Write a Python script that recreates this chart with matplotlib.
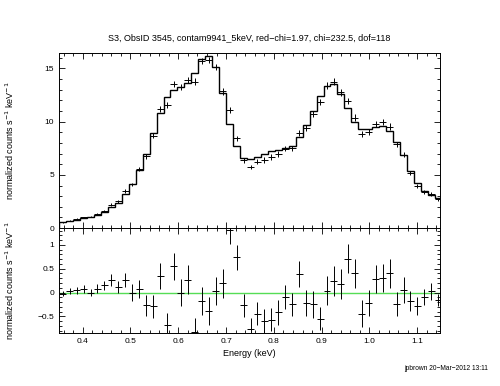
import numpy as np
import matplotlib
matplotlib.use("Agg")
import matplotlib.pyplot as plt
from matplotlib.ticker import MultipleLocator

plt.rcParams['font.family'] = ['Liberation Sans', 'DejaVu Sans']

# Channel energies (keV): bin centres and half-width
energy = [0.3582, 0.3728, 0.3873, 0.4019, 0.4164, 0.4310, 0.4455, 0.4601,
          0.4746, 0.4892, 0.5037, 0.5183, 0.5328, 0.5474, 0.5619, 0.5765,
          0.5910, 0.6056, 0.6201, 0.6347, 0.6492, 0.6638, 0.6783, 0.6929,
          0.7074, 0.7220, 0.7365, 0.7511, 0.7656, 0.7802, 0.7947, 0.8093,
          0.8238, 0.8384, 0.8529, 0.8675, 0.8820, 0.8966, 0.9111, 0.9257,
          0.9402, 0.9548, 0.9693, 0.9839, 0.9984, 1.0130, 1.0275, 1.0421,
          1.0566, 1.0712, 1.0857, 1.1003, 1.1148, 1.1294, 1.1439]
half_width = 0.00728

# Model (folded) in normalized counts s^-1 keV^-1
model = [0.58, 0.68, 0.80, 0.92, 1.08, 1.27, 1.48, 1.95, 2.38, 3.22,
         4.10, 5.43, 7.00, 8.97, 10.82, 12.27, 13.00, 13.27, 13.64, 14.58,
         15.84, 16.20, 15.09, 12.64, 9.76, 7.69, 6.62, 6.50, 6.68, 7.00,
         7.25, 7.37, 7.56, 7.75, 8.56, 9.66, 11.00, 12.39, 13.33, 13.49,
         12.58, 11.23, 9.97, 9.26, 9.26, 9.50, 9.63, 9.13, 8.09, 6.84,
         5.36, 4.23, 3.48, 3.14, 2.86]

# Observed data
data = [0.56, 0.71, 0.85, 1.00, 1.08, 1.35, 1.63, 2.21, 2.50, 3.48,
        4.10, 5.51, 6.73, 8.68, 11.16, 11.58, 13.55, 13.27, 13.91, 13.75,
        15.66, 15.81, 15.12, 12.83, 11.08, 8.43, 6.35, 5.74, 6.24, 6.40,
        6.68, 6.96, 7.47, 7.50, 8.95, 9.44, 10.75, 11.84, 13.37, 13.73,
        12.76, 11.94, 10.37, 8.82, 9.04, 9.79, 9.93, 9.53, 7.85, 6.90,
        5.18, 3.94, 3.39, 3.17, 2.71]

# 1-sigma errors
sigma = [0.06, 0.06, 0.07, 0.08, 0.08, 0.09, 0.10, 0.12, 0.13, 0.15,
         0.17, 0.19, 0.22, 0.24, 0.27, 0.27, 0.28, 0.29, 0.30, 0.30,
         0.30, 0.30, 0.30, 0.30, 0.30, 0.26, 0.25, 0.22, 0.25, 0.25,
         0.245, 0.26, 0.245, 0.245, 0.27, 0.28, 0.28, 0.245, 0.30, 0.32,
         0.32, 0.30, 0.30, 0.28, 0.28, 0.29, 0.29, 0.30, 0.26, 0.27,
         0.21, 0.19, 0.165, 0.18, 0.13]

title = "S3, ObsID 3545, contam9941_5keV, red\u2212chi=1.97, chi=232.5, dof=118"
ylabel = "normalized counts s$^{-1}$ keV$^{-1}$"
stamp = "jpbrown 20\u2212Mar\u22122012 13:11"

E = np.array(energy)
M = np.array(model)
D = np.array(data)
S = np.array(sigma)
R = D - M
edges = np.concatenate([E - half_width, [E[-1] + half_width]])

fig = plt.figure(figsize=(5.0, 3.86), dpi=100)
ax1 = fig.add_axes([0.118, 0.409, 0.762, 0.454])
ax2 = fig.add_axes([0.118, 0.137, 0.762, 0.272], sharex=ax1)

ax1.stairs(M, edges, color='black', lw=1.0)
ax1.errorbar(E, D, xerr=half_width, yerr=S, fmt='none', ecolor='black', elinewidth=0.7)
ax2.axhline(0, color='#55dd55', lw=1.0, zorder=1)
ax2.errorbar(E, R, xerr=half_width, yerr=S, fmt='none', ecolor='black', elinewidth=0.7, zorder=2)

ax1.set_xlim(0.3505, 1.1475)
ax1.set_ylim(0, 16.45)
ax2.set_ylim(-0.85, 1.35)

for ax in (ax1, ax2):
    ax.tick_params(which='both', direction='in', top=True, right=True, labelsize=6)
    ax.tick_params(which='major', length=4, width=0.6)
    ax.tick_params(which='minor', length=2, width=0.6)
    for sp in ax.spines.values():
        sp.set_linewidth(0.7)
ax1.xaxis.set_major_locator(MultipleLocator(0.1))
ax1.xaxis.set_minor_locator(MultipleLocator(0.02))
ax1.yaxis.set_major_locator(MultipleLocator(5))
ax1.yaxis.set_minor_locator(MultipleLocator(1))
ax2.yaxis.set_major_locator(MultipleLocator(0.5))
ax2.yaxis.set_minor_locator(MultipleLocator(0.1))
ax2.set_yticks([-0.5, 0, 0.5, 1])
ax2.set_yticklabels(['\u22120.5', '0', '0.5', '1'])
ax1.set_yticks([0, 5, 10, 15])
ax1.set_yticklabels(['0', '5', '10', '15'])
plt.setp(ax1.get_xticklabels(), visible=False)

ax1.set_title(title, fontsize=6.5, pad=9)
ax1.set_ylabel(ylabel, fontsize=6.5)
ax2.set_ylabel(ylabel, fontsize=6.5)
ax1.yaxis.set_label_coords(-0.112, 0.5)
ax2.yaxis.set_label_coords(-0.112, 0.5)
ax2.set_xlabel("Energy (keV)", fontsize=6.5, labelpad=3)
fig.text(0.976, 0.045, stamp, fontsize=4.8, ha='right', va='center')

fig.savefig("out.png", dpi=100)
